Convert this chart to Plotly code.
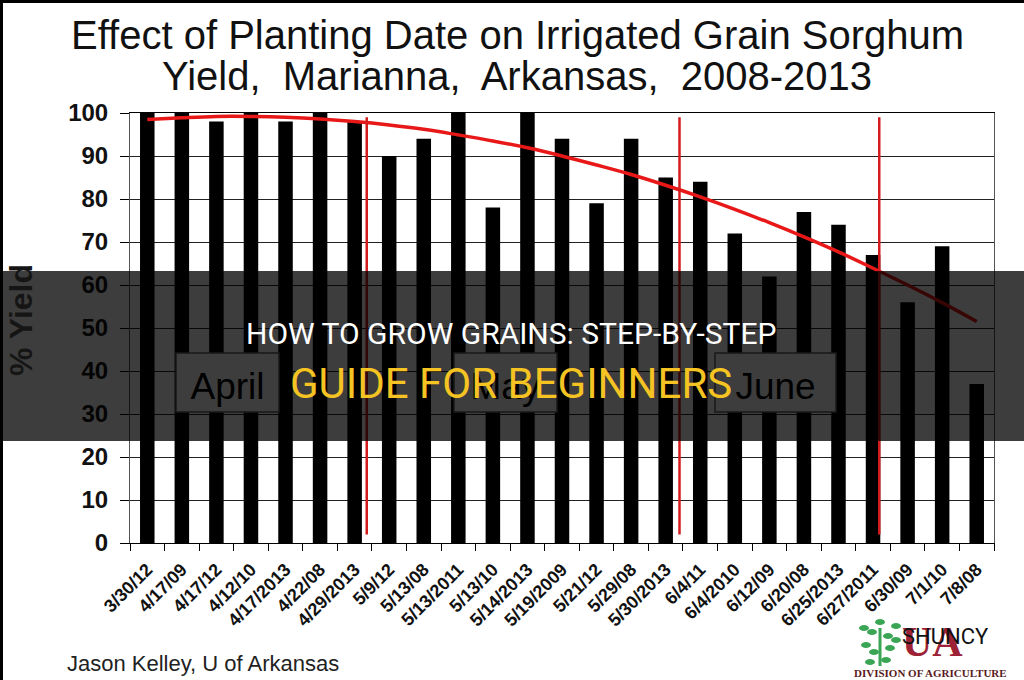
import plotly.graph_objects as go

# ---------------- data ----------------
dates = ["3/30/12", "4/17/09", "4/17/12", "4/12/10", "4/17/2013", "4/22/08",
         "4/29/2013", "5/9/12", "5/13/08", "5/13/2011", "5/13/10", "5/14/2013",
         "5/19/2009", "5/21/12", "5/29/08", "5/30/2013", "6/4/11", "6/4/2010",
         "6/12/09", "6/20/08", "6/25/2013", "6/27/2011", "6/30/09", "7/1/10", "7/8/08"]
yield_pct = [100, 100, 98, 100, 98, 100, 98, 90, 94, 100, 78, 100, 94,
             79, 94, 85, 84, 72, 62, 77, 74, 67, 56, 69, 37]
trend_pct = [98.5, 98.9, 99.2, 99.2, 99.0, 98.6, 98.0, 97.2, 96.2, 94.9, 93.5,
             91.9, 90.0, 87.9, 85.7, 83.2, 80.5, 77.6, 74.5, 71.2, 67.7, 63.9,
             60.0, 55.9, 51.5]
y_ticks = [0, 10, 20, 30, 40, 50, 60, 70, 80, 90, 100]
months = ["April", "May", "June"]

# ---------------- layout geometry (pixels) ----------------
W, H = 1024, 680
L, R, T, B = 130, 30, 113, 137
PW, PH = W - L - R, H - T - B


def px(x):
    return (x - L) / PW


def py(y):
    return (H - B - y) / PH


FONT = "Liberation Sans, Arial, sans-serif"

fig = go.Figure()
fig.add_trace(go.Bar(x=dates, y=yield_pct, marker=dict(color="black", line=dict(width=0)),
                     hoverinfo="x+y"))
fig.add_trace(go.Scatter(x=dates, y=trend_pct, mode="lines",
                         line=dict(color="#e81818", width=3.5, shape="spline")))

shapes = []
# month divider lines (category-index positions)
for xd in [6.35, 15.4, 21.18]:
    shapes.append(dict(type="line", xref="x", yref="y", x0=xd, x1=xd, y0=2, y1=99,
                       line=dict(color="#d41c1c", width=2.5), layer="above"))
# month label boxes (below the dark banner)
boxes = [(176, 279), (454, 557), (715, 836)]
for (x0, x1), m in zip(boxes, months):
    shapes.append(dict(type="rect", xref="paper", yref="paper",
                       x0=px(x0), x1=px(x1), y0=py(412), y1=py(353),
                       fillcolor="#ffffff", line=dict(color="#666666", width=1.5),
                       layer="above",
                       label=dict(text=m, font=dict(size=37, color="#000000", family=FONT),
                                  textposition="middle center")))
# dark banner overlay
shapes.append(dict(type="rect", xref="paper", yref="paper",
                   x0=px(-5), x1=px(W + 5), y0=py(441), y1=py(271),
                   fillcolor="rgba(0,0,0,0.76)", line=dict(width=0), layer="above"))
# frame lines at top and left edge
shapes.append(dict(type="rect", xref="paper", yref="paper", x0=px(0), x1=px(3),
                   y0=py(H), y1=py(0), fillcolor="black", line=dict(width=0), layer="above"))
shapes.append(dict(type="rect", xref="paper", yref="paper", x0=px(0), x1=px(W),
                   y0=py(3), y1=py(0), fillcolor="black", line=dict(width=0), layer="above"))
# logo tree: trunk + leaves
shapes.append(dict(type="line", xref="paper", yref="paper", x0=px(880), x1=px(880),
                   y0=py(666), y1=py(628), line=dict(color="#3aa655", width=3), layer="above"))
leaves = [(872, 632), (866, 645), (880, 622), (888, 636), (874, 652), (890, 648),
          (864, 628), (886, 660), (896, 626), (870, 662), (896, 640)]
for lx, ly in leaves:
    shapes.append(dict(type="circle", xref="paper", yref="paper",
                       x0=px(lx - 5), x1=px(lx + 5), y0=py(ly + 3), y1=py(ly - 3),
                       fillcolor="#3aa655", line=dict(width=0), layer="above"))

annotations = [
    dict(text="Effect of Planting Date on Irrigated Grain Sorghum", x=px(517), y=py(35),
         font=dict(size=40, color="#111111", family=FONT)),
    dict(text="Yield,\u00a0 Marianna,\u00a0 Arkansas,\u00a0 2008-2013", x=px(517), y=py(76),
         font=dict(size=40, color="#111111", family=FONT)),
    dict(text="% Yield", x=px(21), y=py(320), textangle=-90,
         font=dict(size=32, color="#151515", family=FONT, weight="bold")),
    dict(text="HOW TO GROW GRAINS: STEP-BY-STEP", x=px(511), y=py(333),
         font=dict(size=30, color="#ffffff", family="Roboto, sans-serif")),
    dict(text="GUIDE FOR BEGINNERS", x=px(511), y=py(383),
         font=dict(size=42, color="#f5c423", family="Roboto, sans-serif")),
    dict(text="Jason Kelley, U of Arkansas", x=px(65), y=py(663), xanchor="left",
         font=dict(size=22, color="#222222", family=FONT)),
    dict(text="<b>UA</b>", x=px(932), y=py(642),
         font=dict(size=42, color="#9d2235", family="Liberation Serif, serif")),
    dict(text="SHUNCY", x=px(945), y=py(636),
         font=dict(size=22, color="#111111", family="Roboto, sans-serif")),
    dict(text="<b>DIVISION OF AGRICULTURE</b>", x=px(930), y=py(673),
         font=dict(size=11, color="#5a1a22", family="Liberation Serif, serif")),
]
for a in annotations:
    a.setdefault("xref", "paper")
    a.setdefault("yref", "paper")
    a.setdefault("xanchor", "center")
    a.setdefault("yanchor", "middle")
    a.setdefault("showarrow", False)

fig.update_layout(
    width=W, height=H,
    margin=dict(l=L, r=R, t=T, b=B, pad=0),
    paper_bgcolor="white", plot_bgcolor="white",
    showlegend=False, bargap=0.58,
    shapes=shapes, annotations=annotations,
    xaxis=dict(type="category", tickangle=-45, tickson="boundaries", ticks="outside",
               ticklen=7, tickcolor="black", showline=True, linecolor="black",
               mirror=True, showgrid=False, ticklabelstandoff=8,
               tickfont=dict(size=18, color="#111111", family=FONT, weight="bold")),
    yaxis=dict(range=[0, 100], tickvals=y_ticks, ticks="outside", ticklen=9,
               tickcolor="black", showline=True, linecolor="#555555", mirror=True,
               showgrid=True, gridcolor="#222222", gridwidth=1, zeroline=False,
               ticklabelstandoff=7,
               tickfont=dict(size=24, color="#111111", family=FONT, weight="bold")),
)

fig.write_html("out.html")
